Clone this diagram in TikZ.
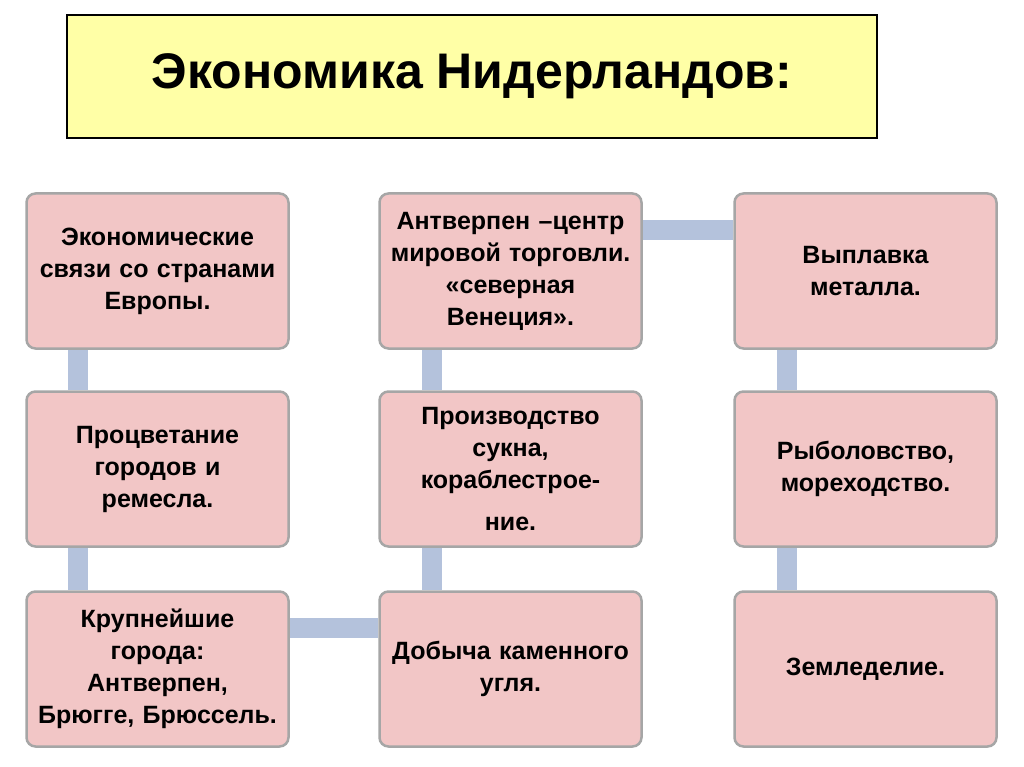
\documentclass[tikz,border=0pt]{standalone}
\usepackage{fontspec}
\setmainfont{Liberation Sans}
\begin{document}
\begin{tikzpicture}[x=1pt,y=-1pt,
  box/.style={draw=gray!70,line width=2.5pt,rounded corners=9pt,fill=pinkf,minimum width=262pt,minimum height=155pt,align=center,font=\fontsize{25}{32}\selectfont\bfseries,text width=255pt},
  link/.style={draw=linkc,line width=20pt}]
\definecolor{pinkf}{HTML}{F2C6C6}
\definecolor{linkc}{HTML}{B4C2DC}
\definecolor{titlef}{HTML}{FFFFA6}
\useasboundingbox (0,0) rectangle (1024,767);
\node[draw=black,line width=2pt,fill=titlef,minimum width=810pt,minimum height=123pt,font=\fontsize{50}{54}\selectfont\bfseries] (t) at (472,76.5) {Экономика Нидерландов:};
\node[box] (a1) at (157.5,271) {Экономические\\связи со странами\\Европы.};
\node[box] (a2) at (157.5,469) {Процветание\\городов и\\ремесла.};
\node[box] (a3) at (157.5,669) {Крупнейшие\\города:\\Антверпен,\\Брюгге, Брюссель.};
\node[box] (b1) at (510.5,271) {Антверпен –центр\\мировой торговли.\\«северная\\Венеция».};
\node[box] (b2) at (510.5,469) {Производство\\сукна,\\кораблестрое-\\[10pt]ние.};
\node[box] (b3) at (510.5,669) {Добыча каменного\\угля.};
\node[box] (c1) at (865.5,271) {Выплавка\\металла.};
\node[box] (c2) at (865.5,469) {Рыболовство,\\мореходство.};
\node[box] (c3) at (865.5,669) {Земледелие.};
\draw[link] (a1.south -| 78,0) -- (a2.north -| 78,0);
\draw[link] (a2.south -| 78,0) -- (a3.north -| 78,0);
\draw[link] (b1.south -| 432,0) -- (b2.north -| 432,0);
\draw[link] (b2.south -| 432,0) -- (b3.north -| 432,0);
\draw[link] (c1.south -| 787,0) -- (c2.north -| 787,0);
\draw[link] (c2.south -| 787,0) -- (c3.north -| 787,0);
\draw[link] (b1.east |- 0,230) -- (c1.west |- 0,230);
\draw[link] (a3.east |- 0,628) -- (b3.west |- 0,628);
\end{tikzpicture}
\end{document}
